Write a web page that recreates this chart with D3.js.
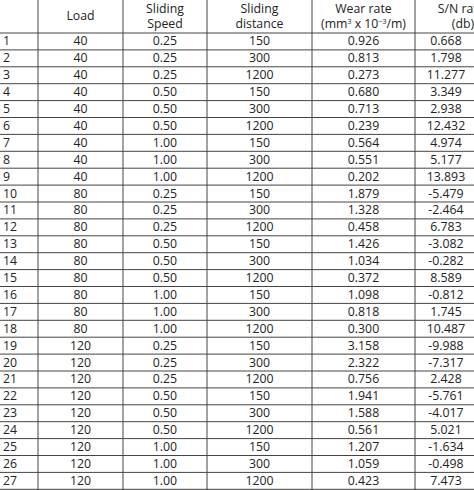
<!DOCTYPE html>
<head>
<meta charset="utf-8">
<script src="https://d3js.org/d3.v7.min.js"></script>
<style>body{margin:0;background:#fff}</style>
</head>
<body>
<div id="tbl"></div>
<script>
// table data
var loads = [40,40,40,40,40,40,40,40,40,80,80,80,80,80,80,80,80,80,120,120,120,120,120,120,120,120,120];
var speeds = ["0.25","0.25","0.25","0.50","0.50","0.50","1.00","1.00","1.00","0.25","0.25","0.25","0.50","0.50","0.50","1.00","1.00","1.00","0.25","0.25","0.25","0.50","0.50","0.50","1.00","1.00","1.00"];
var distances = [150,300,1200,150,300,1200,150,300,1200,150,300,1200,150,300,1200,150,300,1200,150,300,1200,150,300,1200,150,300,1200];
var wear = ["0.926","0.813","0.273","0.680","0.713","0.239","0.564","0.551","0.202","1.879","1.328","0.458","1.426","1.034","0.372","1.098","0.818","0.300","3.158","2.322","0.756","1.941","1.588","0.561","1.207","1.059","0.423"];
var snRatio = ["0.668","1.798","11.277","3.349","2.938","12.432","4.974","5.177","13.893","-5.479","-2.464","6.783","-3.082","-0.282","8.589","-0.812","1.745","10.487","-9.988","-7.317","2.428","-5.761","-4.017","5.021","-1.634","-0.498","7.473"];

var W = 474, H = 490, headH = 33, rowH = 16.9;
var colX = [0, 38, 123, 207, 312, 415, 530];
var svg = d3.select("#tbl").append("svg").attr("width", W).attr("height", H)
  .style("font-family", "'Open Sans', sans-serif").style("font-size", "12.3px");

var y = d3.scaleLinear().domain([0, 27]).range([headH, headH + 27 * rowH]);
var rows = d3.range(27);

// grid lines
svg.selectAll(".h").data(d3.range(28)).enter().append("line")
  .attr("x1", 0).attr("x2", W).attr("y1", function(d){return y(d);}).attr("y2", function(d){return y(d);})
  .attr("stroke", "#444").attr("stroke-width", 1);
svg.selectAll(".v").data(colX.slice(1, 6)).enter().append("line")
  .attr("x1", function(d){return d;}).attr("x2", function(d){return d;})
  .attr("y1", 0).attr("y2", H).attr("stroke", "#444").attr("stroke-width", 1);

function mid(i){ return (colX[i] + colX[i+1]) / 2; }
var headers = [["Load"], ["Sliding","Speed"], ["Sliding","distance"], null, ["S/N ratio","(db)"]];
headers.forEach(function(h, k) {
  var cx = k == 4 ? 463 : mid(k + 1);
  if (!h) return;
  if (h.length == 1) {
    svg.append("text").attr("x", cx).attr("y", 20).attr("text-anchor", "middle").attr("fill", "#222").text(h[0]);
  } else {
    svg.append("text").attr("x", cx).attr("y", 13).attr("text-anchor", "middle").attr("fill", "#222").text(h[0]);
    svg.append("text").attr("x", cx).attr("y", 28).attr("text-anchor", "middle").attr("fill", "#222").text(h[1]);
  }
});
svg.append("text").attr("x", mid(4)).attr("y", 13).attr("text-anchor", "middle").attr("fill", "#222").text("Wear rate");
var t = svg.append("text").attr("x", mid(4)).attr("y", 28).attr("text-anchor", "middle").attr("fill", "#222");
t.append("tspan").text("(mm");
t.append("tspan").attr("dy", -4).style("font-size", "7px").text("3");
t.append("tspan").attr("dy", 4).text(" x 10");
t.append("tspan").attr("dy", -4).style("font-size", "7px").text("−3");
t.append("tspan").attr("dy", 4).text("/m)");

var cols = [
  {vals: rows.map(function(i){return i + 1;}), x: 3, anchor: "start"},
  {vals: loads, x: mid(1), anchor: "middle"},
  {vals: speeds, x: mid(2), anchor: "middle"},
  {vals: distances, x: mid(3), anchor: "middle"},
  {vals: wear, x: mid(4), anchor: "middle"},
  {vals: snRatio, x: 446, anchor: "middle"}
];
cols.forEach(function(c) {
  svg.selectAll(null).data(rows).enter().append("text")
    .attr("x", c.x).attr("y", function(i){return y(i) + rowH / 2 + 4;})
    .attr("text-anchor", c.anchor).attr("fill", "#222")
    .text(function(i){return c.vals[i];});
});
</script>
</body>
